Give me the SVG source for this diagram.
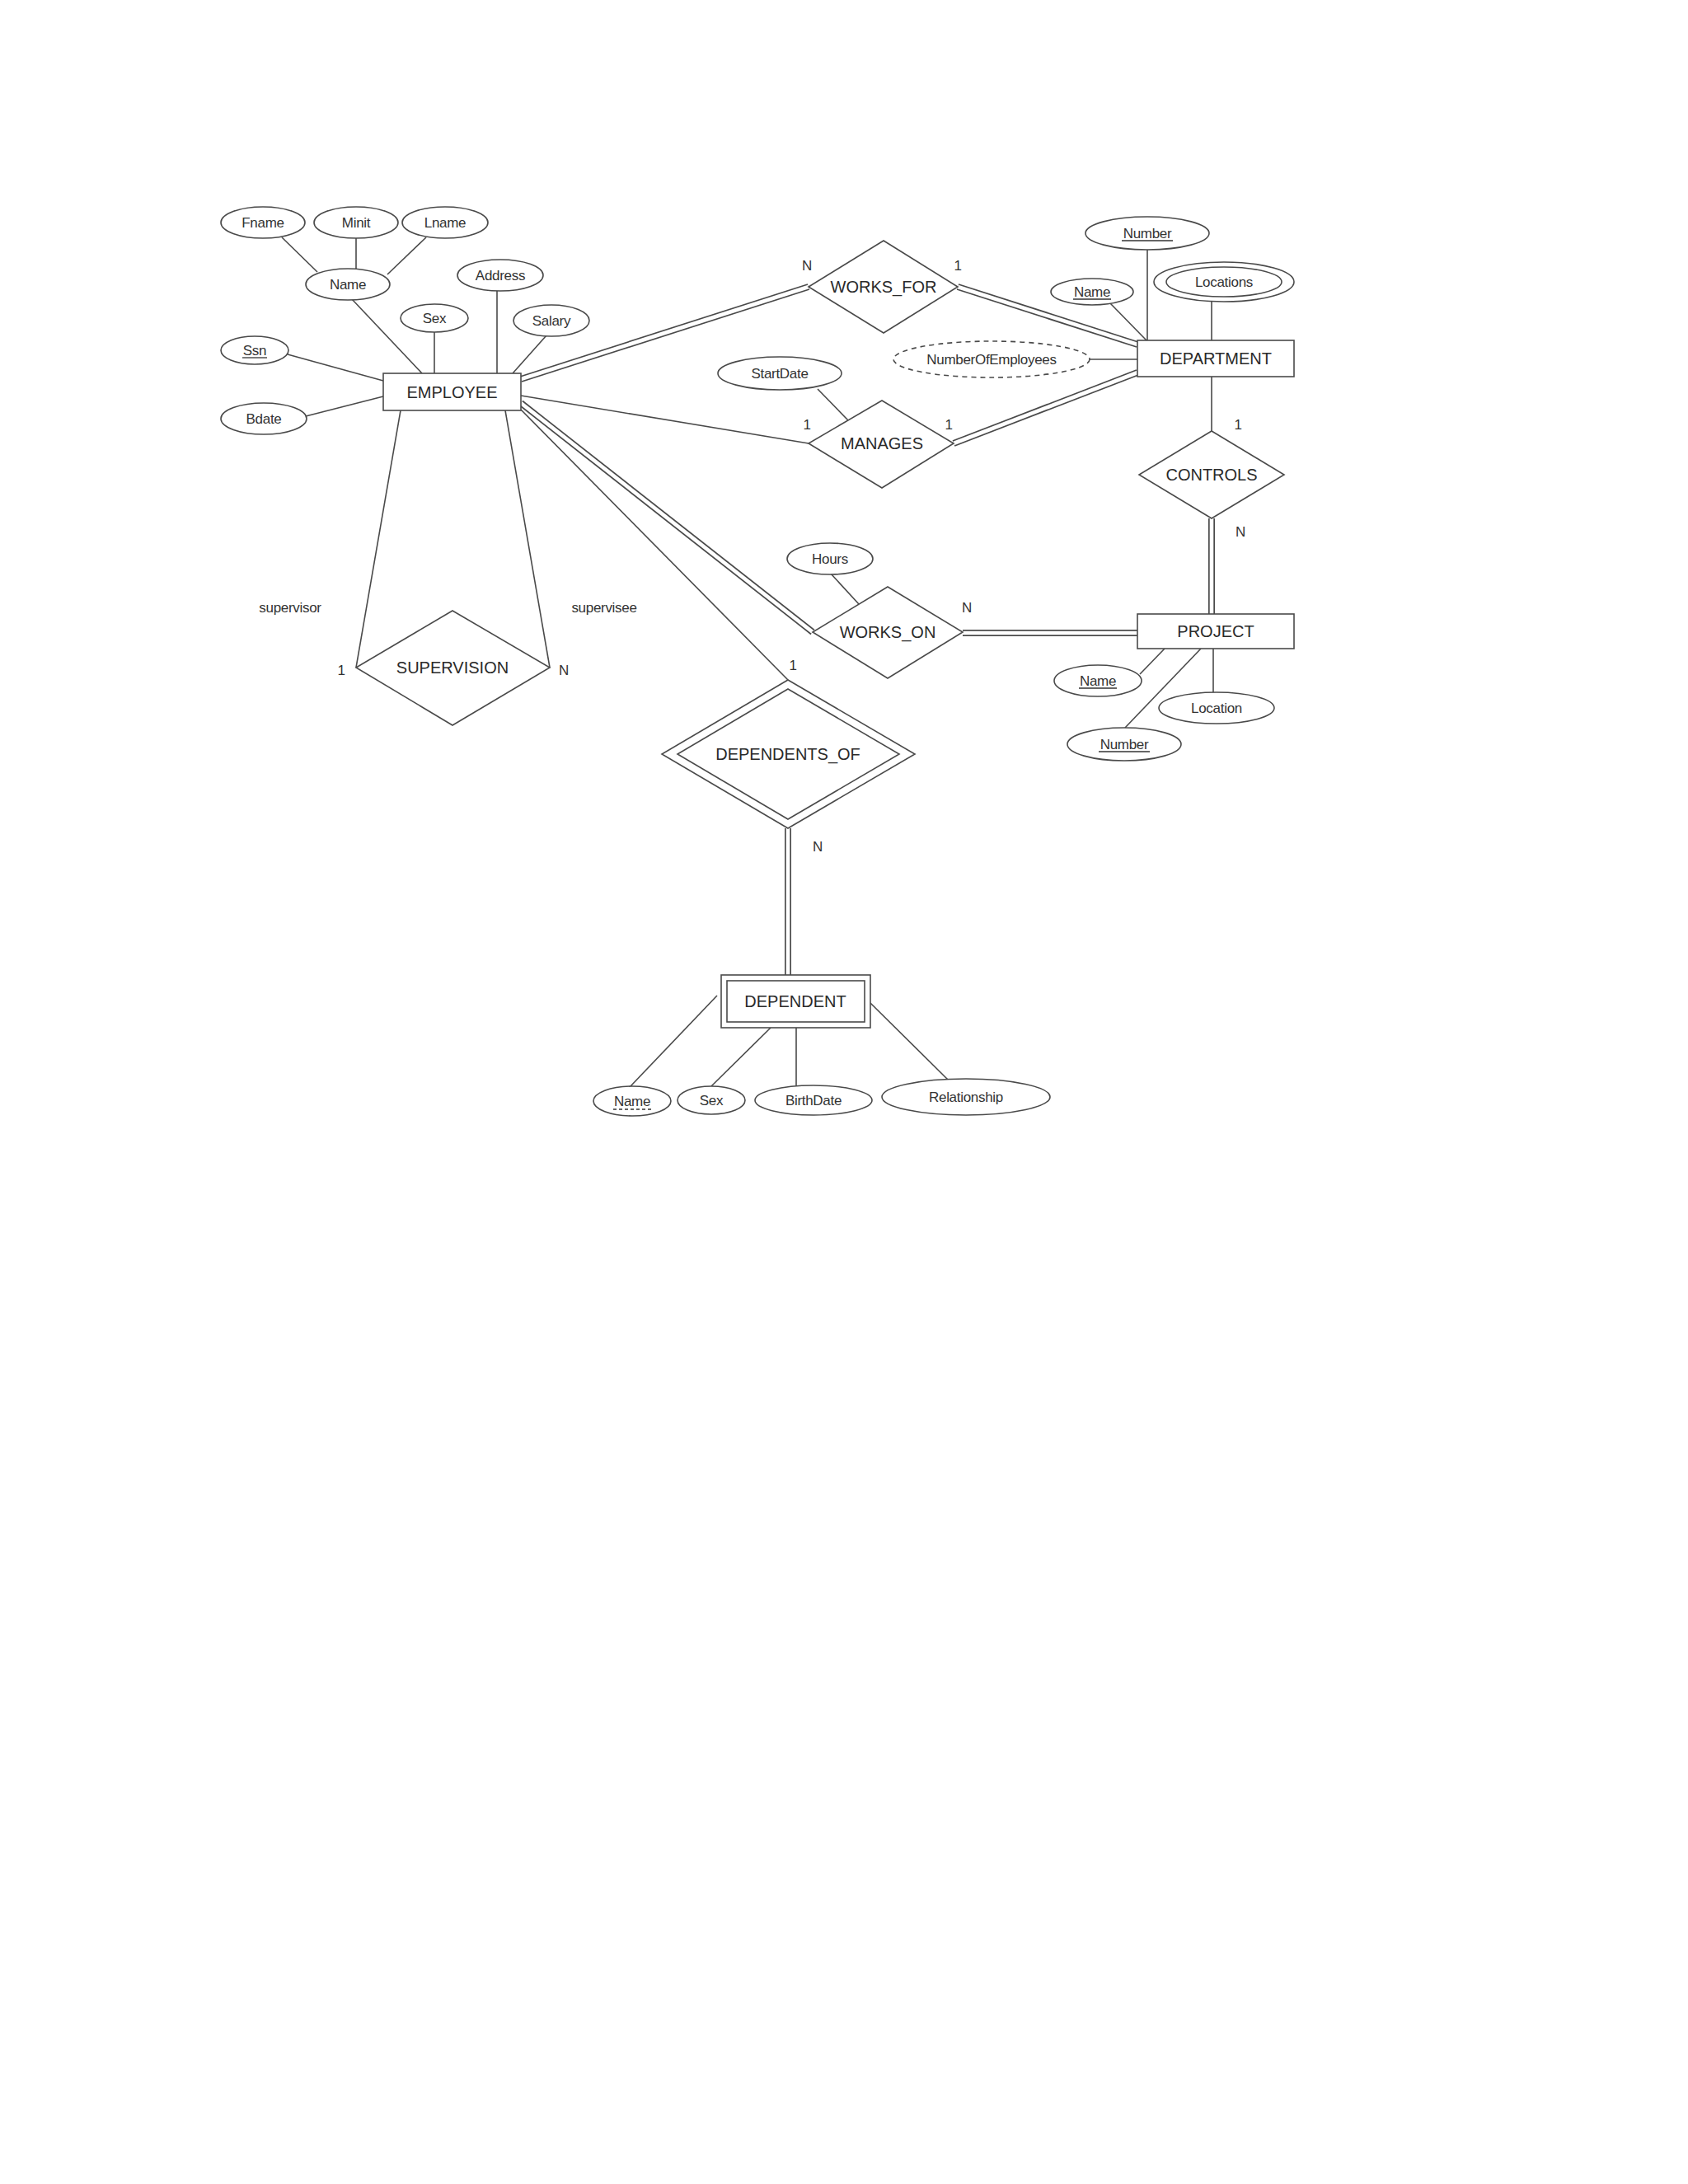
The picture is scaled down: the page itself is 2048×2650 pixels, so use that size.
<svg xmlns="http://www.w3.org/2000/svg" width="2048" height="2650" viewBox="0 0 2048 2650">
<style>
  .ln{stroke:#4a4a4a;stroke-width:1.6;fill:none}
  .dbo{stroke:#4a4a4a;stroke-width:8;fill:none}
  .dbi{stroke:#ffffff;stroke-width:4.6;fill:none}
  .shape{fill:#ffffff;stroke:#4a4a4a;stroke-width:1.6}
  .dash{fill:#ffffff;stroke:#4a4a4a;stroke-width:1.6;stroke-dasharray:6 5}
  .t{font-family:"Liberation Sans",Arial,sans-serif;font-size:17px;fill:#333;text-anchor:middle;letter-spacing:-0.3px}
  .te{font-family:"Liberation Sans",Arial,sans-serif;font-size:20px;fill:#2a2a2a;text-anchor:middle}
  .ul{stroke:#333;stroke-width:1.3}
  .uld{stroke:#333;stroke-width:1.3;stroke-dasharray:4 3}
</style>
<rect width="2048" height="2650" fill="#ffffff"/>

<g id="connectors">
  <!-- attribute lines -->
  <line class="ln" x1="342" y1="288" x2="385" y2="330"/>
  <line class="ln" x1="432" y1="289" x2="432" y2="326"/>
  <line class="ln" x1="517" y1="288" x2="470" y2="333"/>
  <line class="ln" x1="427" y1="363" x2="512" y2="453"/>
  <line class="ln" x1="527" y1="403" x2="527" y2="453"/>
  <line class="ln" x1="603" y1="353" x2="603" y2="453"/>
  <line class="ln" x1="663" y1="407" x2="622" y2="453"/>
  <line class="ln" x1="349" y1="430" x2="465" y2="462"/>
  <line class="ln" x1="371" y1="505" x2="465" y2="481"/>
  <line class="ln" x1="1347" y1="368" x2="1391" y2="413"/>
  <line class="ln" x1="1392" y1="303" x2="1392" y2="413"/>
  <line class="ln" x1="1470" y1="366" x2="1470" y2="413"/>
  <line class="ln" x1="1322" y1="436" x2="1380" y2="436"/>
  <line class="ln" x1="992" y1="472" x2="1029" y2="510"/>
  <line class="ln" x1="1008" y1="696" x2="1042" y2="733"/>
  <line class="ln" x1="1383" y1="818" x2="1413" y2="787"/>
  <line class="ln" x1="1365" y1="883" x2="1457" y2="787"/>
  <line class="ln" x1="1472" y1="787" x2="1472" y2="840"/>
  <line class="ln" x1="870" y1="1208" x2="765" y2="1318"/>
  <line class="ln" x1="935" y1="1247" x2="863" y2="1318"/>
  <line class="ln" x1="966" y1="1247" x2="966" y2="1317"/>
  <line class="ln" x1="1056" y1="1217" x2="1150" y2="1310"/>
  <!-- relationship lines -->
  <line class="ln" x1="632" y1="480" x2="981" y2="538"/>
  <line class="ln" x1="632" y1="497" x2="956" y2="825"/>
  <line class="ln" x1="1470" y1="457" x2="1470" y2="523"/>
  <line class="ln" x1="486" y1="498" x2="432" y2="810"/>
  <line class="ln" x1="613" y1="498" x2="667" y2="810"/>
  <!-- double lines (total participation) -->
  <g>
    <line class="dbo" x1="632" y1="460" x2="981" y2="348"/>
    <line class="dbi" x1="632" y1="460" x2="981" y2="348"/>
  </g>
  <g>
    <line class="dbo" x1="1162" y1="348" x2="1380" y2="418"/>
    <line class="dbi" x1="1162" y1="348" x2="1380" y2="418"/>
  </g>
  <g>
    <line class="dbo" x1="1157" y1="538" x2="1380" y2="452"/>
    <line class="dbi" x1="1157" y1="538" x2="1380" y2="452"/>
  </g>
  <g>
    <line class="dbo" x1="632" y1="489" x2="986" y2="767"/>
    <line class="dbi" x1="632" y1="489" x2="986" y2="767"/>
  </g>
  <g>
    <line class="dbo" x1="1168" y1="768" x2="1380" y2="768"/>
    <line class="dbi" x1="1168" y1="768" x2="1380" y2="768"/>
  </g>
  <g>
    <line class="dbo" x1="1470" y1="629" x2="1470" y2="745"/>
    <line class="dbi" x1="1470" y1="629" x2="1470" y2="745"/>
  </g>
  <g>
    <line class="dbo" x1="956" y1="1005" x2="956" y2="1183"/>
    <line class="dbi" x1="956" y1="1005" x2="956" y2="1183"/>
  </g>
  <!-- cardinalities and roles -->
  <text class="t" x="979" y="328">N</text>
  <text class="t" x="1162" y="328">1</text>
  <text class="t" x="979" y="521">1</text>
  <text class="t" x="1151" y="521">1</text>
  <text class="t" x="1502" y="521">1</text>
  <text class="t" x="1505" y="651">N</text>
  <text class="t" x="1173" y="743">N</text>
  <text class="t" x="962" y="813">1</text>
  <text class="t" x="992" y="1033">N</text>
  <text class="t" x="414" y="819">1</text>
  <text class="t" x="684" y="819">N</text>
  <text class="t" x="352" y="743">supervisor</text>
  <text class="t" x="733" y="743">supervisee</text>
</g>

<g id="EMPLOYEE">
  <rect class="shape" x="465" y="453" width="167" height="45"/>
  <text class="te" x="548.5" y="483">EMPLOYEE</text>
</g>
<g id="emp-fname"><ellipse class="shape" cx="319" cy="270" rx="51" ry="19"/><text class="t" x="319" y="276">Fname</text></g>
<g id="emp-minit"><ellipse class="shape" cx="432" cy="270" rx="51" ry="19"/><text class="t" x="432" y="276">Minit</text></g>
<g id="emp-lname"><ellipse class="shape" cx="540" cy="270" rx="52" ry="19"/><text class="t" x="540" y="276">Lname</text></g>
<g id="emp-name"><ellipse class="shape" cx="422" cy="345" rx="51" ry="19"/><text class="t" x="422" y="351">Name</text></g>
<g id="emp-address"><ellipse class="shape" cx="607" cy="334" rx="52" ry="19"/><text class="t" x="607" y="340">Address</text></g>
<g id="emp-sex"><ellipse class="shape" cx="527" cy="386" rx="41" ry="17"/><text class="t" x="527" y="392">Sex</text></g>
<g id="emp-salary"><ellipse class="shape" cx="669" cy="389" rx="46" ry="19"/><text class="t" x="669" y="395">Salary</text></g>
<g id="emp-ssn"><ellipse class="shape" cx="309" cy="425" rx="41" ry="17"/><text class="t" x="309" y="431">Ssn</text><line class="ul" x1="294" y1="434" x2="324" y2="434"/></g>
<g id="emp-bdate"><ellipse class="shape" cx="320" cy="508" rx="52" ry="19"/><text class="t" x="320" y="514">Bdate</text></g>

<g id="WORKS_FOR">
  <polygon class="shape" points="1072,292 1162,348 1072,404 981,348"/>
  <text class="te" x="1072" y="355">WORKS_FOR</text>
</g>
<g id="MANAGES">
  <polygon class="shape" points="1070,486 1157,538 1070,592 981,538"/>
  <text class="te" x="1070" y="545">MANAGES</text>
</g>
<g id="man-startdate"><ellipse class="shape" cx="946" cy="453" rx="75" ry="20"/><text class="t" x="946" y="459">StartDate</text></g>

<g id="DEPARTMENT">
  <rect class="shape" x="1380" y="413" width="190" height="44"/>
  <text class="te" x="1475" y="442">DEPARTMENT</text>
</g>
<g id="dept-number"><ellipse class="shape" cx="1392" cy="283" rx="75" ry="20"/><text class="t" x="1392" y="289">Number</text><line class="ul" x1="1361" y1="292" x2="1423" y2="292"/></g>
<g id="dept-name"><ellipse class="shape" cx="1325" cy="354" rx="50" ry="16"/><text class="t" x="1325" y="360">Name</text><line class="ul" x1="1302" y1="363" x2="1348" y2="363"/></g>
<g id="dept-locations"><ellipse class="shape" cx="1485" cy="342" rx="85" ry="24"/><ellipse class="shape" cx="1485" cy="342" rx="70" ry="18"/><text class="t" x="1485" y="348">Locations</text></g>
<g id="dept-numemp"><ellipse class="dash" cx="1203" cy="436" rx="119" ry="22"/><text class="t" x="1203" y="442">NumberOfEmployees</text></g>

<g id="CONTROLS">
  <polygon class="shape" points="1470,523 1558,576 1470,629 1382,576"/>
  <text class="te" x="1470" y="583">CONTROLS</text>
</g>

<g id="PROJECT">
  <rect class="shape" x="1380" y="745" width="190" height="42"/>
  <text class="te" x="1475" y="773">PROJECT</text>
</g>
<g id="proj-name"><ellipse class="shape" cx="1332" cy="826" rx="53" ry="19"/><text class="t" x="1332" y="832">Name</text><line class="ul" x1="1309" y1="835" x2="1355" y2="835"/></g>
<g id="proj-location"><ellipse class="shape" cx="1476" cy="859" rx="70" ry="19"/><text class="t" x="1476" y="865">Location</text></g>
<g id="proj-number"><ellipse class="shape" cx="1364" cy="903" rx="69" ry="20"/><text class="t" x="1364" y="909">Number</text><line class="ul" x1="1333" y1="912" x2="1395" y2="912"/></g>

<g id="WORKS_ON">
  <polygon class="shape" points="1077,712 1168,767 1077,823 986,767"/>
  <text class="te" x="1077" y="774">WORKS_ON</text>
</g>
<g id="wo-hours"><ellipse class="shape" cx="1007" cy="678" rx="52" ry="19"/><text class="t" x="1007" y="684">Hours</text></g>

<g id="SUPERVISION">
  <polygon class="shape" points="549,741 667,810 549,880 432,810"/>
  <text class="te" x="549" y="817">SUPERVISION</text>
</g>

<g id="DEPENDENTS_OF">
  <polygon class="shape" points="956,825 1110,915 956,1005 803,915"/>
  <polygon class="shape" points="956,836 1091,915 956,994 822,915"/>
  <text class="te" x="956" y="922">DEPENDENTS_OF</text>
</g>

<g id="DEPENDENT">
  <rect class="shape" x="875" y="1183" width="181" height="64"/>
  <rect class="shape" x="882" y="1190" width="167" height="50"/>
  <text class="te" x="965" y="1222">DEPENDENT</text>
</g>
<g id="dep-name"><ellipse class="shape" cx="767" cy="1336" rx="47" ry="18"/><text class="t" x="767" y="1342">Name</text><line class="uld" x1="744" y1="1346" x2="790" y2="1346"/></g>
<g id="dep-sex"><ellipse class="shape" cx="863" cy="1335" rx="41" ry="17"/><text class="t" x="863" y="1341">Sex</text></g>
<g id="dep-birthdate"><ellipse class="shape" cx="987" cy="1335" rx="71" ry="18"/><text class="t" x="987" y="1341">BirthDate</text></g>
<g id="dep-relationship"><ellipse class="shape" cx="1172" cy="1331" rx="102" ry="22"/><text class="t" x="1172" y="1337">Relationship</text></g>
</svg>
